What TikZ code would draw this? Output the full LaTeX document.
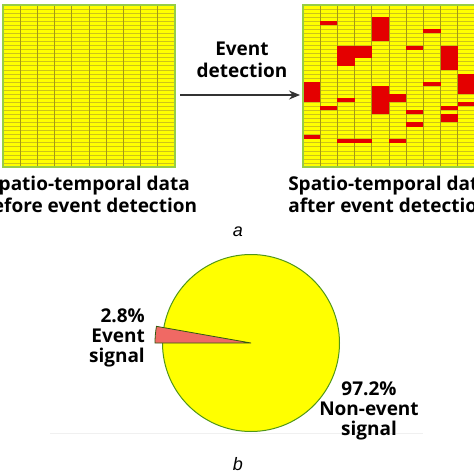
\documentclass[tikz,border=0pt]{standalone}
\usepackage{fontspec}
\setmainfont{Open Sans}
\newfontfamily\capfont{Liberation Sans}
\usetikzlibrary{arrows.meta}

\definecolor{cellyellow}{RGB}{255,255,0}
\definecolor{cololive}{RGB}{165,155,20}
\definecolor{rowolive}{RGB}{205,195,25}
\definecolor{rimgreen}{RGB}{150,205,70}
\definecolor{eventred}{RGB}{228,0,0}
\definecolor{piegreen}{RGB}{80,150,25}
\definecolor{slicered}{RGB}{240,105,100}

\begin{document}
\begin{tikzpicture}[x=1pt,y=-1pt,
  lbl/.style={font=\bfseries\fontsize{19}{22}\selectfont, align=center, inner sep=0pt},
  subcap/.style={font=\capfont\itshape\fontsize{18}{20}\selectfont, inner sep=0pt}]
\useasboundingbox (0,0) rectangle (474,474);
% grids
\foreach \gx in {3,303} {
  \begin{scope}[shift={(\gx,5)}]
    \fill[cellyellow] (0,0) rectangle (172,162);
    \foreach \r in {1,...,39} \draw[rowolive,line width=.6pt] (0,\r*4.05) -- (172,\r*4.05);
    \foreach \c in {1,...,9} \draw[cololive,line width=.9pt] (\c*17.2,0) -- (\c*17.2,162);
  \end{scope}
}
\begin{scope}[shift={(303,5)},x=17.2pt,y=-4.05pt]
  \foreach \c/\r/\w/\h in {1/4/1/1, 4/3/1/6, 7/6/1/1, 6/10/1/1, 2/10/1/5, 3/10/1/3,
      8/10/1/6, 9/17/1/5, 7/19/1/1, 0/19/1/5, 4/20/1/7, 5/22/1/2, 2/23/1/1,
      1/25/1/1, 6/26/1/1, 8/25/1/1, 9/24/1/1, 8/27/1/2, 6/29/1/1, 0/32/1/1,
      2/33/2/1, 5/33/1/1}
    \fill[eventred] (\c,\r) rectangle ++(\w,\h);
\end{scope}
\foreach \gx in {3,303}
  \draw[rimgreen,line width=1.5pt] (\gx,5) rectangle ++(172,162);

\coordinate (arrtail) at (180,95);
\coordinate (arrhead) at (300,95);
\draw[-{Stealth[length=11pt,width=9pt]},line width=1.3pt,black!80] (arrtail) -- (arrhead);
\node[lbl] (detect) at (242,60) {Event\\detection};

\node[lbl] (before) at (89,194) {Spatio-temporal data\\before event detection};
\node[lbl] (after) at (389,194) {Spatio-temporal data\\after event detection};
\node[subcap] (capa) at (238,232) {a};

% pie
\coordinate (pc) at (251,343);
\fill[cellyellow] (pc) circle (88.5);
\draw[piegreen,line width=1pt] (pc) circle (88.5);
\filldraw[fill=slicered,draw=piegreen!60!black,line width=.8pt]
  (pc) -- ++(180:96) arc[start angle=180,end angle=190,radius=96] -- cycle;
\draw[black!6,line width=.8pt] (50,433) -- (423,433);

\node[lbl,align=right,anchor=east,font=\bfseries\fontsize{19}{20}\selectfont] (evlbl) at (145,338) {2.8\%\\Event\\signal};
\node[lbl,font=\bfseries\fontsize{19}{20}\selectfont] (nonlbl) at (369,411) {97.2\%\\Non-event\\signal};
\node[subcap] (capb) at (238,464) {b};
\end{tikzpicture}
\end{document}
